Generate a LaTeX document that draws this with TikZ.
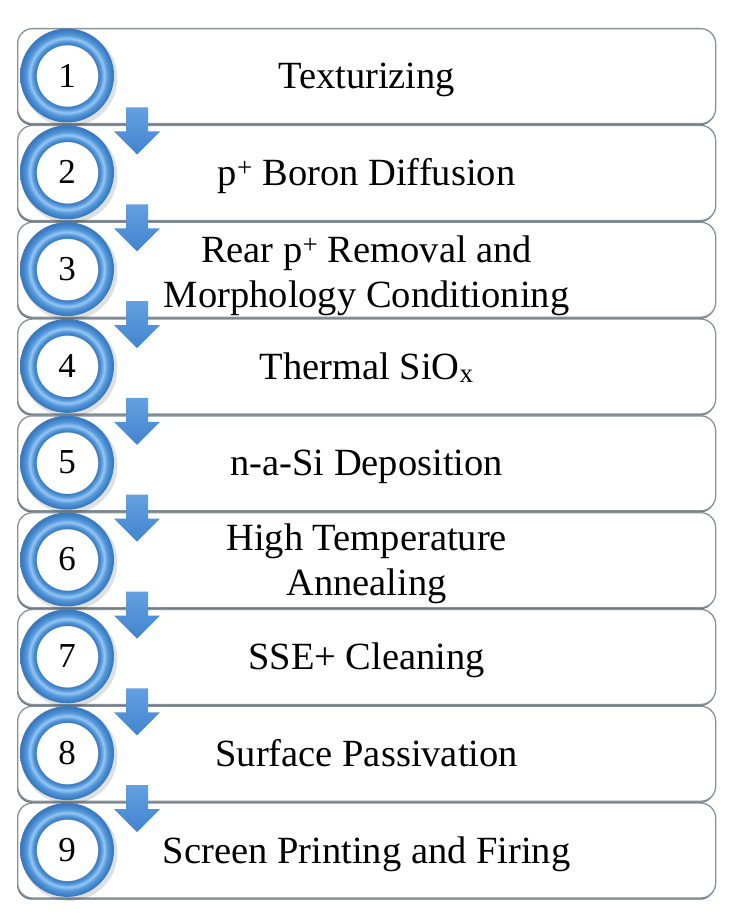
\documentclass[tikz,border=0pt]{standalone}
\usepackage{fontspec}
\setmainfont{Liberation Serif}
\usetikzlibrary{calc}
\definecolor{boxcol}{RGB}{135,146,154}
\definecolor{shadowcol}{RGB}{95,110,120}
\definecolor{ringD}{RGB}{58,122,192}
\definecolor{ringM}{RGB}{84,152,220}
\definecolor{ringL}{RGB}{150,198,240}
\definecolor{arrL}{RGB}{100,160,225}
\definecolor{arrD}{RGB}{65,132,206}
\pgfdeclareradialshading{ringshade}{\pgfpoint{0bp}{0bp}}{color(0bp)=(white); color(16.2bp)=(white); color(16.6bp)=(ringD); color(18.2bp)=(ringM); color(19.8bp)=(ringL); color(21.6bp)=(ringM); color(24.2bp)=(ringD); color(25bp)=(ringD); color(50bp)=(ringD)}
\tikzset{
  stepbox/.style={draw=boxcol, line width=1.3pt, rounded corners=15pt, fill=white,
    minimum width=698pt, minimum height=95pt, inner sep=0pt, anchor=north west},
  ring/.style={circle, minimum size=94pt, inner sep=0pt, shade, shading=ringshade,
    font=\fontsize{35}{40}\selectfont},
  lbl/.style={anchor=base, align=center, inner sep=0pt,
    font=\fontsize{38.5}{45.5}\selectfont},
  stepshadow/.style={fill=shadowcol, rounded corners=15pt},
  steparrow/.style={top color=arrL, bottom color=arrD}
}
\begin{document}
\begin{tikzpicture}[x=1pt,y=-1pt]
\useasboundingbox (0,0) rectangle (736,915);
\fill[white] (0,0) rectangle (736,915);
% shadows of boxes
\foreach \i in {1,...,9} {
  \pgfmathsetmacro\tp{28+(\i-1)*96.8}
  \fill[stepshadow] (17,\tp+3) rectangle (715,\tp+97.3);
}
% boxes
\foreach \i in {1,...,9} {
  \pgfmathsetmacro\tp{28+(\i-1)*96.8}
  \node[stepbox] (b\i) at (17,\tp) {};
}
% labels (base = baseline of the last line)
\node[lbl] (t1) at ($(b1.center)+(0,12.5)$) {Texturizing};
\node[lbl] (t2) at ($(b2.center)+(0,12.5)$) {p\textsuperscript{+} Boron Diffusion};
\node[lbl] (t3) at ($(b3.center)+(0,38)$) {Rear p\textsuperscript{+} Removal and\\Morphology Conditioning};
\node[lbl] (t4) at ($(b4.center)+(0,12.5)$) {Thermal SiO\textsubscript{x}};
\node[lbl] (t5) at ($(b5.center)+(0,12.5)$) {n-a-Si Deposition};
\node[lbl] (t6) at ($(b6.center)+(0,35.5)$) {High Temperature\\Annealing};
\node[lbl] (t7) at ($(b7.center)+(0,12.5)$) {SSE+ Cleaning};
\node[lbl] (t8) at ($(b8.center)+(0,12.5)$) {Surface Passivation};
\node[lbl] (t9) at ($(b9.center)+(0,12.5)$) {Screen Printing and Firing};
% ring shadows and rings
\foreach \i in {1,...,9} {
  \pgfmathsetmacro\yc{75.5+(\i-1)*96.8}
  \fill[black, opacity=0.12] (69.5,\yc+3) circle (48);
}
\foreach \i in {1,...,9} {
  \pgfmathsetmacro\yc{75.5+(\i-1)*96.8}
  \node[ring] (c\i) at (67,\yc) {\i};
}
% arrows between steps
\foreach \i in {1,...,8} {
  \pgfmathsetmacro\yb{124.5+(\i-1)*96.8}
  \shade[steparrow] (126,\yb-17) -- (148,\yb-17) -- (148,\yb+7) -- (160,\yb+7)
     -- (137,\yb+30) -- (114,\yb+7) -- (126,\yb+7) -- cycle;
}
\end{tikzpicture}
\end{document}
